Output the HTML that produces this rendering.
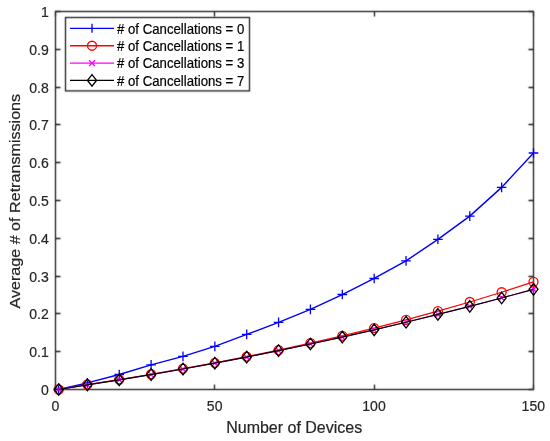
<!DOCTYPE html><html><head><meta charset="utf-8"><title>Average # of Retransmissions vs Number of Devices</title><style>html,body{margin:0;padding:0;background:#fff;overflow:hidden}svg{display:block}</style></head><body>
<svg width="550" height="441" viewBox="0 0 550 441">
<defs><filter id="bl" x="0" y="0" width="100%" height="100%" color-interpolation-filters="sRGB"><feConvolveMatrix order="3" kernelMatrix="0.01690 0.09620 0.01690 0.09620 0.54760 0.09620 0.01690 0.09620 0.01690" divisor="1" edgeMode="duplicate" preserveAlpha="true"/></filter></defs>
<g filter="url(#bl)">
<rect width="550" height="441" fill="#fff"/>
<path d="M55.5 389.5h5M533.5 389.5h-5M55.5 351.5h5M533.5 351.5h-5M55.5 313.5h5M533.5 313.5h-5M55.5 276.5h5M533.5 276.5h-5M55.5 238.5h5M533.5 238.5h-5M55.5 200.5h5M533.5 200.5h-5M55.5 162.5h5M533.5 162.5h-5M55.5 124.5h5M533.5 124.5h-5M55.5 87.5h5M533.5 87.5h-5M55.5 49.5h5M533.5 49.5h-5M55.5 11.5h5M533.5 11.5h-5M55.5 389.5v-5M55.5 11.5v5M214.5 389.5v-5M214.5 11.5v5M374.5 389.5v-5M374.5 11.5v5M533.5 389.5v-5M533.5 11.5v5" stroke="#1c1c1c" stroke-width="1.3" fill="none"/>
<rect x="55.5" y="11.5" width="478.0" height="378.0" fill="none" stroke="#1c1c1c" stroke-width="1.3"/>
<rect x="65.5" y="17.5" width="184" height="73.4" fill="#fff" stroke="#1c1c1c" stroke-width="1.3"/>
</g>
<polyline points="58.69,389.50 87.37,382.88 119.23,374.49 151.10,364.89 182.97,356.39 214.83,346.41 246.70,334.39 278.57,322.40 310.43,309.40 342.30,294.51 374.17,278.48 406.03,260.90 437.90,239.32 469.77,216.11 501.63,187.38 533.50,152.99" fill="none" stroke="#0000ff" stroke-width="1.4"/>
<path d="M53.89 389.50h9.6M58.69 384.70v9.6M82.57 382.88h9.6M87.37 378.08v9.6M114.43 374.49h9.6M119.23 369.69v9.6M146.30 364.89h9.6M151.10 360.09v9.6M178.17 356.39h9.6M182.97 351.59v9.6M210.03 346.41h9.6M214.83 341.61v9.6M241.90 334.39h9.6M246.70 329.59v9.6M273.77 322.40h9.6M278.57 317.60v9.6M305.63 309.40h9.6M310.43 304.60v9.6M337.50 294.51h9.6M342.30 289.71v9.6M369.37 278.48h9.6M374.17 273.68v9.6M401.23 260.90h9.6M406.03 256.10v9.6M433.10 239.32h9.6M437.90 234.52v9.6M464.97 216.11h9.6M469.77 211.31v9.6M496.83 187.38h9.6M501.63 182.58v9.6M528.70 152.99h9.6M533.50 148.19v9.6" stroke="#0000ff" stroke-width="1.3" fill="none"/>
<polyline points="58.69,389.50 87.37,384.50 119.23,379.52 151.10,374.25 182.97,368.68 214.83,362.80 246.70,356.59 278.57,350.04 310.43,343.12 342.30,335.80 374.17,328.07 406.03,319.88 437.90,311.21 469.77,302.00 501.63,292.23 533.50,281.84" fill="none" stroke="#ff0000" stroke-width="1.25"/>
<g fill="none" stroke="#ff0000" stroke-width="1.3"><circle cx="58.69" cy="389.50" r="4.5"/><circle cx="87.37" cy="384.50" r="4.5"/><circle cx="119.23" cy="379.52" r="4.5"/><circle cx="151.10" cy="374.25" r="4.5"/><circle cx="182.97" cy="368.68" r="4.5"/><circle cx="214.83" cy="362.80" r="4.5"/><circle cx="246.70" cy="356.59" r="4.5"/><circle cx="278.57" cy="350.04" r="4.5"/><circle cx="310.43" cy="343.12" r="4.5"/><circle cx="342.30" cy="335.80" r="4.5"/><circle cx="374.17" cy="328.07" r="4.5"/><circle cx="406.03" cy="319.88" r="4.5"/><circle cx="437.90" cy="311.21" r="4.5"/><circle cx="469.77" cy="302.00" r="4.5"/><circle cx="501.63" cy="292.23" r="4.5"/><circle cx="533.50" cy="281.84" r="4.5"/></g>
<polyline points="58.69,389.50 87.37,384.80 119.23,379.82 151.10,374.56 182.97,369.02 214.83,363.19 246.70,357.07 278.57,350.68 310.43,344.00 342.30,337.04 374.17,329.79 406.03,322.26 437.90,314.45 469.77,306.35 501.63,297.98 533.50,289.31" fill="none" stroke="#ff00ff" stroke-width="1.0"/>
<path d="M55.79 386.60l5.8 5.8M55.79 392.40l5.8 -5.8M84.47 381.90l5.8 5.8M84.47 387.70l5.8 -5.8M116.33 376.92l5.8 5.8M116.33 382.72l5.8 -5.8M148.20 371.66l5.8 5.8M148.20 377.46l5.8 -5.8M180.07 366.12l5.8 5.8M180.07 371.92l5.8 -5.8M211.93 360.29l5.8 5.8M211.93 366.09l5.8 -5.8M243.80 354.17l5.8 5.8M243.80 359.97l5.8 -5.8M275.67 347.78l5.8 5.8M275.67 353.58l5.8 -5.8M307.53 341.10l5.8 5.8M307.53 346.90l5.8 -5.8M339.40 334.14l5.8 5.8M339.40 339.94l5.8 -5.8M371.27 326.89l5.8 5.8M371.27 332.69l5.8 -5.8M403.13 319.36l5.8 5.8M403.13 325.16l5.8 -5.8M435.00 311.55l5.8 5.8M435.00 317.35l5.8 -5.8M466.87 303.45l5.8 5.8M466.87 309.25l5.8 -5.8M498.73 295.08l5.8 5.8M498.73 300.88l5.8 -5.8M530.60 286.41l5.8 5.8M530.60 292.21l5.8 -5.8" stroke="#ff00ff" stroke-width="1.3" fill="none"/>
<polyline points="58.69,389.50 87.37,384.80 119.23,379.82 151.10,374.56 182.97,369.02 214.83,363.19 246.70,357.07 278.57,350.68 310.43,344.00 342.30,337.04 374.17,329.79 406.03,322.26 437.90,314.45 469.77,306.35 501.63,297.98 533.50,289.31" fill="none" stroke="#000000" stroke-width="1.2"/>
<path d="M58.69 383.70L63.19 389.50L58.69 395.30L54.19 389.50ZM87.37 379.00L91.87 384.80L87.37 390.60L82.87 384.80ZM119.23 374.02L123.73 379.82L119.23 385.62L114.73 379.82ZM151.10 368.76L155.60 374.56L151.10 380.36L146.60 374.56ZM182.97 363.22L187.47 369.02L182.97 374.82L178.47 369.02ZM214.83 357.39L219.33 363.19L214.83 368.99L210.33 363.19ZM246.70 351.27L251.20 357.07L246.70 362.87L242.20 357.07ZM278.57 344.88L283.07 350.68L278.57 356.48L274.07 350.68ZM310.43 338.20L314.93 344.00L310.43 349.80L305.93 344.00ZM342.30 331.24L346.80 337.04L342.30 342.84L337.80 337.04ZM374.17 323.99L378.67 329.79L374.17 335.59L369.67 329.79ZM406.03 316.46L410.53 322.26L406.03 328.06L401.53 322.26ZM437.90 308.65L442.40 314.45L437.90 320.25L433.40 314.45ZM469.77 300.55L474.27 306.35L469.77 312.15L465.27 306.35ZM501.63 292.18L506.13 297.98L501.63 303.78L497.13 297.98ZM533.50 283.51L538.00 289.31L533.50 295.11L529.00 289.31Z" stroke="#000000" stroke-width="1.3" fill="none"/>
<path d="M70 28.35H114" stroke="#0000ff" stroke-width="1.35"/>
<path d="M92 23.85v9" stroke="#0000ff" stroke-width="1.35"/>
<path d="M70 45.70H114" stroke="#ff0000" stroke-width="1.35"/>
<circle cx="92" cy="45.70" r="4.5" fill="none" stroke="#ff0000" stroke-width="1.35"/>
<path d="M70 63.05H114" stroke="#ff00ff" stroke-width="1.35"/>
<path d="M89.10 60.15l5.8 5.8M89.10 65.95l5.8 -5.8" stroke="#ff00ff" stroke-width="1.35"/>
<path d="M70 80.40H114" stroke="#000000" stroke-width="1.35"/>
<path d="M92.00 74.60L96.50 80.40L92.00 86.20L87.50 80.40Z" fill="none" stroke="#000000" stroke-width="1.35"/>
<g style="font-family:'Liberation Sans',Arial,Helvetica,sans-serif;font-size:14.8px" fill="#262626" stroke="#262626" stroke-width="0.2">
<text transform="translate(48.8 394.90) scale(0.95 1)" text-anchor="end">0</text>
<text transform="translate(48.8 357.10) scale(0.95 1)" text-anchor="end">0.1</text>
<text transform="translate(48.8 319.30) scale(0.95 1)" text-anchor="end">0.2</text>
<text transform="translate(48.8 281.50) scale(0.95 1)" text-anchor="end">0.3</text>
<text transform="translate(48.8 243.70) scale(0.95 1)" text-anchor="end">0.4</text>
<text transform="translate(48.8 205.90) scale(0.95 1)" text-anchor="end">0.5</text>
<text transform="translate(48.8 168.10) scale(0.95 1)" text-anchor="end">0.6</text>
<text transform="translate(48.8 130.30) scale(0.95 1)" text-anchor="end">0.7</text>
<text transform="translate(48.8 92.50) scale(0.95 1)" text-anchor="end">0.8</text>
<text transform="translate(48.8 54.70) scale(0.95 1)" text-anchor="end">0.9</text>
<text transform="translate(48.8 16.90) scale(0.95 1)" text-anchor="end">1</text>
<text transform="translate(55.30 410.5) scale(0.95 1)" text-anchor="middle">0</text>
<text transform="translate(214.63 410.5) scale(0.95 1)" text-anchor="middle">50</text>
<text transform="translate(373.97 410.5) scale(0.95 1)" text-anchor="middle">100</text>
<text transform="translate(533.30 410.5) scale(0.95 1)" text-anchor="middle">150</text>
</g>
<g style="font-family:'Liberation Sans',Arial,Helvetica,sans-serif;font-size:16px" fill="#262626" stroke="#262626" stroke-width="0.2">
<text x="294.2" y="432.6" text-anchor="middle">Number of Devices</text>
<text transform="translate(20.4 201.2) rotate(-90) scale(1.075 1)" style="font-size:15px" text-anchor="middle">Average # of Retransmissions</text>
</g>
<g style="font-family:'Liberation Sans',Arial,Helvetica,sans-serif;font-size:14.2px" fill="#000" stroke="#000" stroke-width="0.2">
<text transform="translate(117 33.75) scale(0.93 1)"># of Cancellations = 0</text>
<text transform="translate(117 51.10) scale(0.93 1)"># of Cancellations = 1</text>
<text transform="translate(117 68.45) scale(0.93 1)"># of Cancellations = 3</text>
<text transform="translate(117 85.80) scale(0.93 1)"># of Cancellations = 7</text>
</g>
</svg></body></html>
